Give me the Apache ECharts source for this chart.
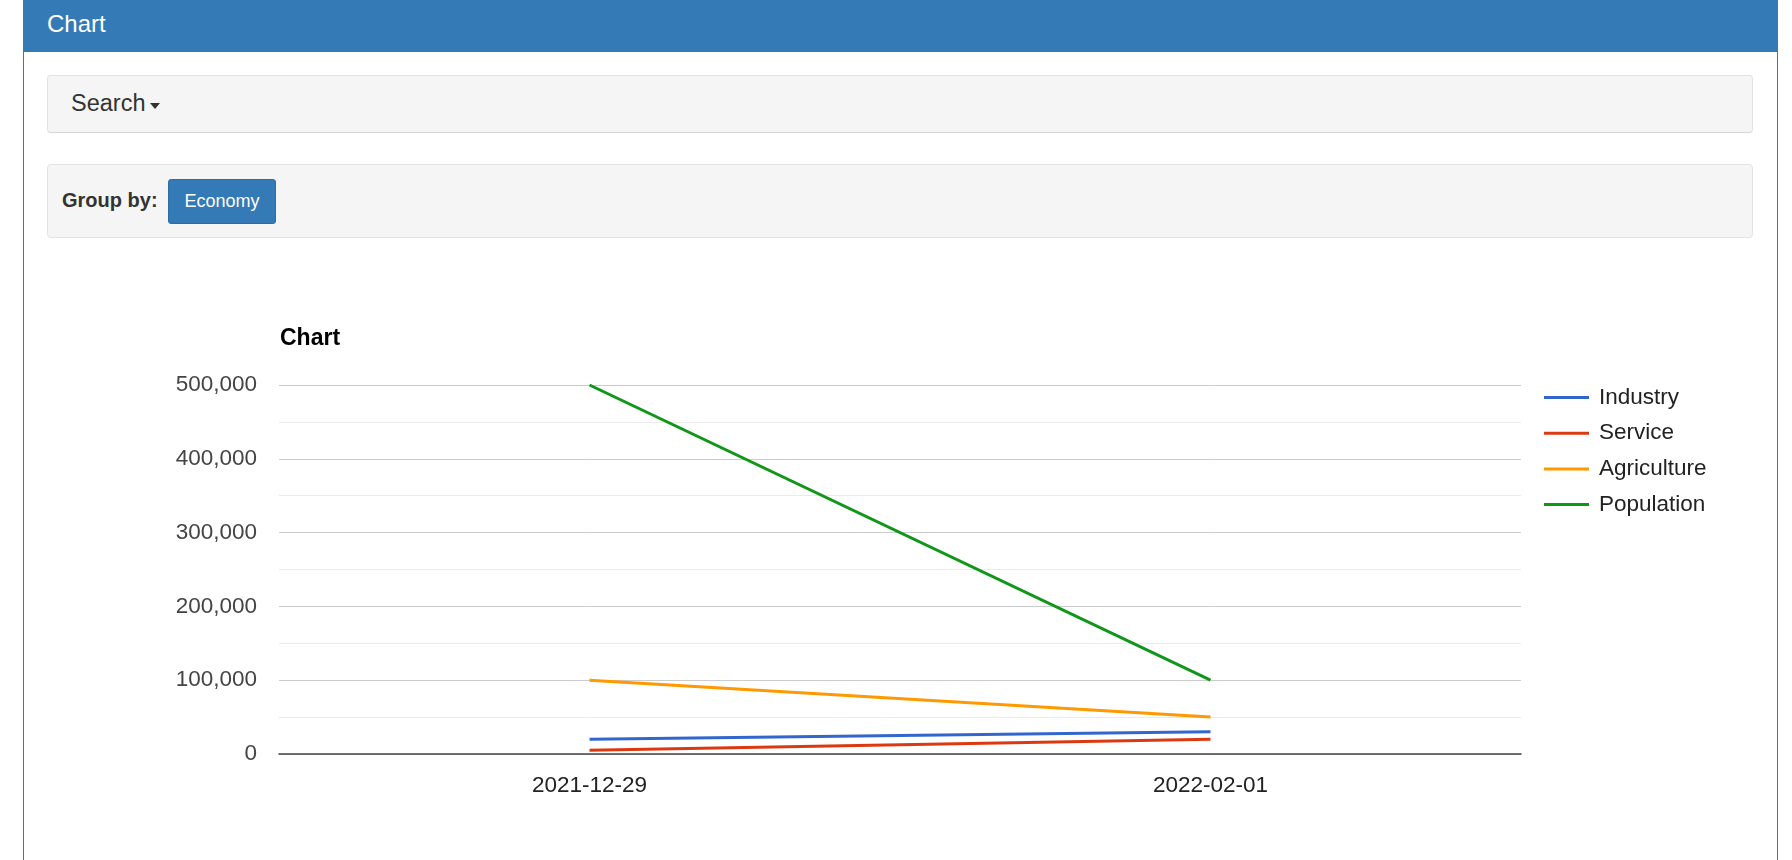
<!DOCTYPE html>
<html>
<head>
<meta charset="utf-8">
<script src="https://cdn.jsdelivr.net/npm/echarts@6/dist/echarts.min.js"></script>
<style>
  html, body { margin: 0; padding: 0; background: #fff; }
  body { width: 1792px; height: 860px; overflow: hidden; position: relative;
         font-family: "Liberation Sans", Arial, Helvetica, sans-serif; color: #333; }
  .panel { position: absolute; left: 23px; top: 0; width: 1753px; height: 900px;
           border: 1px solid #337ab7; border-top: none; }
  .head { position: absolute; left: 23px; top: 0; width: 1755px; height: 52px; background: #337ab7; }
  .head span { position: absolute; left: 24px; top: 12px; font-size: 24px; line-height: 24px; color: #fff; }
  .well { position: absolute; left: 47px; width: 1704px; background: #f5f5f5;
          border: 1px solid #e3e3e3; border-radius: 4px; }
  .w1 { top: 75px; height: 56px; border-bottom-color: #d6d6d6; }
  .w2 { top: 164px; height: 72px; }
  .search { position: absolute; left: 23px; top: 16px; font-size: 23.5px; line-height: 23.5px; color: #333; }
  .caret { position: absolute; left: 102px; top: 27px; width: 0; height: 0;
           border-left: 5.5px solid transparent; border-right: 5.5px solid transparent; border-top: 6px solid #333; }
  .grp { position: absolute; left: 14px; top: 25px; font-size: 20px; line-height: 20px; font-weight: bold; color: #333; }
  .btn { position: absolute; left: 120px; top: 14px; width: 108px; height: 45px; background: #337ab7;
         border: 1px solid #2e6da4; border-radius: 3px; color: #fff; font-size: 18px;
         display: flex; align-items: center; justify-content: center; box-sizing: border-box; }
  #chart { position: absolute; left: 0; top: 0; width: 1792px; height: 860px; }
</style>
</head>
<body>
<div class="panel"></div>
<div class="head"><span>Chart</span></div>
<div class="well w1"><span class="search">Search</span><span class="caret"></span></div>
<div class="well w2"><span class="grp">Group by:</span><div class="btn">Economy</div></div>
<div id="chart"></div>
<script>
// ---- data ----
const dates = ['2021-12-29', '2022-02-01'];
const seriesNames = ['Industry', 'Service', 'Agriculture', 'Population'];
const industry = [20000, 30000];
const service = [5000, 20000];
const agriculture = [100000, 50000];
const population = [500000, 100000];
const yTicks = [0, 100000, 200000, 300000, 400000, 500000];

// ---- styling / layout ----
const colors = ['#3366cc', '#dc3912', '#ff9900', '#109618'];
const font = '"Liberation Sans", Arial, sans-serif';
const valueSets = [industry, service, agriculture, population];

const chart = echarts.init(document.getElementById('chart'), null, { renderer: 'canvas' });
chart.setOption({
  animation: false,
  color: colors,
  title: {
    text: 'Chart', left: 280, top: 327, padding: 0,
    textStyle: { fontFamily: font, fontSize: 23, fontWeight: 'bold', color: '#000' }
  },
  legend: {
    orient: 'vertical', left: 1544, top: 386, padding: 0,
    itemWidth: 45, itemHeight: 14, itemGap: 12.7,
    icon: 'path://M0,5.5 L45,5.5 L45,8.5 L0,8.5 Z',
    data: seriesNames,
    textStyle: { fontFamily: font, fontSize: 22.5, lineHeight: 22, color: '#222', padding: [0, 0, 0, 5] }
  },
  grid: { left: 279, top: 385, width: 1242, height: 369 },
  xAxis: {
    type: 'category',
    data: dates,
    boundaryGap: true,
    axisLine: { show: true, lineStyle: { color: '#444', width: 1.6 } },
    axisTick: { show: false },
    splitLine: { show: false },
    axisLabel: { fontFamily: font, fontSize: 22.5, color: '#222', margin: 20 }
  },
  yAxis: {
    type: 'value',
    min: yTicks[0], max: yTicks[yTicks.length - 1], interval: yTicks[1] - yTicks[0],
    axisLine: { show: false },
    axisTick: { show: false },
    splitLine: { lineStyle: { color: '#cccccc', width: 1 } },
    minorTick: { show: false, splitNumber: 2 },
    minorSplitLine: { show: true, lineStyle: { color: '#ebebeb', width: 1 } },
    axisLabel: {
      formatter: function (v) { return v.toLocaleString('en-US'); },
      fontFamily: font, fontSize: 22.5, color: '#444', margin: 22
    }
  },
  series: seriesNames.map(function (name, i) {
    return {
      name: name, type: 'line', symbol: 'none', showSymbol: false,
      lineStyle: { width: 3, color: colors[i] },
      data: valueSets[i]
    };
  })
});
</script>
</body>
</html>
